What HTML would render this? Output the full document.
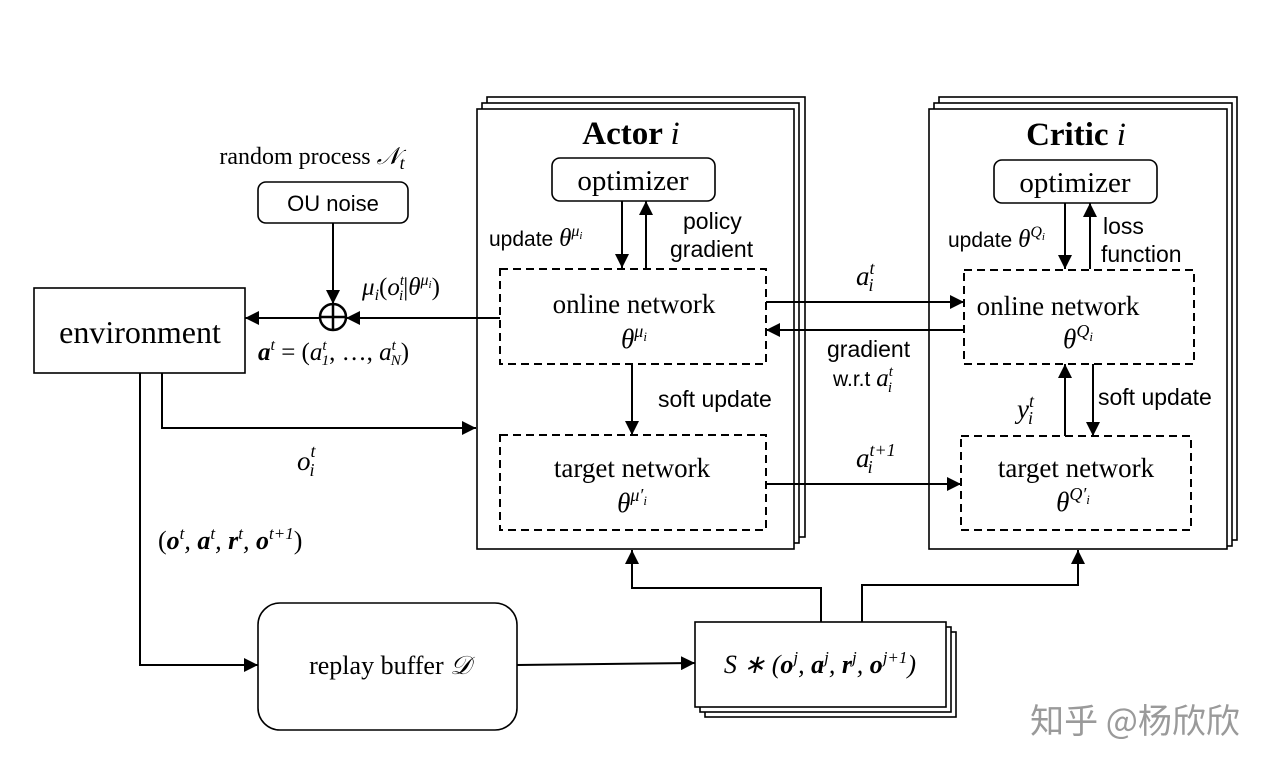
<!DOCTYPE html>
<html><head><meta charset="utf-8"><style>
html,body{margin:0;padding:0;background:#fff;}
svg{display:block}
.s{font-family:"Liberation Serif",serif;}
.a{font-family:"Liberation Sans","Noto Sans CJK SC",sans-serif;}
.i{font-family:"Liberation Serif",serif;font-style:italic;}
</style></head><body>
<svg width="1271" height="774" viewBox="0 0 1271 774" xmlns="http://www.w3.org/2000/svg">
<defs>
<marker id="m" viewBox="0 0 10 10" refX="10" refY="5" markerWidth="14" markerHeight="14" orient="auto" markerUnits="userSpaceOnUse"><path d="M0,0 L10,5 L0,10 z" fill="#000"/></marker></defs>
<g fill="#fff" stroke="#000" stroke-width="1.6">
<rect x="487" y="97" width="318" height="440"/>
<rect x="482" y="103" width="317" height="440"/>
<rect x="477" y="109" width="317" height="440"/>
<rect x="939" y="97" width="298" height="443"/>
<rect x="934" y="103" width="298" height="443"/>
<rect x="929" y="109" width="298" height="440"/>
<rect x="705" y="632" width="251" height="85"/>
<rect x="700" y="627" width="251" height="85"/>
<rect x="695" y="622" width="251" height="85"/>
<rect x="552" y="158" width="163" height="43" rx="8"/>
<rect x="994" y="160" width="163" height="43" rx="8"/>
<rect x="258" y="182" width="150" height="41" rx="8"/>
<rect x="34" y="288" width="211" height="85"/>
<rect x="258" y="603" width="259" height="127" rx="22"/>
</g>
<g fill="none" stroke="#000" stroke-width="2" stroke-dasharray="8,5">
<rect x="500" y="269" width="266" height="95"/>
<rect x="500" y="435" width="266" height="95"/>
<rect x="964" y="270" width="230" height="94"/>
<rect x="961" y="436" width="230" height="94"/>
</g>
<g fill="none" stroke="#000" stroke-width="2">
<line x1="622" y1="201" x2="622" y2="268" marker-end="url(#m)"/>
<line x1="646" y1="268" x2="646" y2="201" marker-end="url(#m)"/>
<line x1="1065" y1="203" x2="1065" y2="269" marker-end="url(#m)"/>
<line x1="1090" y1="269" x2="1090" y2="203" marker-end="url(#m)"/>
<line x1="632" y1="364" x2="632" y2="435" marker-end="url(#m)"/>
<line x1="1065" y1="436" x2="1065" y2="364" marker-end="url(#m)"/>
<line x1="1093" y1="364" x2="1093" y2="436" marker-end="url(#m)"/>
<line x1="766" y1="302" x2="964" y2="302" marker-end="url(#m)"/>
<line x1="964" y1="330" x2="766" y2="330" marker-end="url(#m)"/>
<line x1="766" y1="484" x2="961" y2="484" marker-end="url(#m)"/>
<line x1="500" y1="318" x2="346" y2="318" marker-end="url(#m)"/>
<line x1="320" y1="318" x2="245" y2="318" marker-end="url(#m)"/>
<line x1="333" y1="223" x2="333" y2="304" marker-end="url(#m)"/>
<circle cx="333" cy="317" r="13" stroke-width="2.5"/>
<line x1="320" y1="317" x2="346" y2="317" stroke-width="2.5"/>
<line x1="333" y1="304" x2="333" y2="330" stroke-width="2.5"/>
<polyline points="162,373 162,428 476,428" marker-end="url(#m)"/>
<polyline points="140,373 140,665 258,665" marker-end="url(#m)"/>
<line x1="517" y1="665" x2="695" y2="663" marker-end="url(#m)"/>
<polyline points="821,622 821,588 632,588 632,550" marker-end="url(#m)"/>
<polyline points="862,622 862,585 1078,585 1078,550" marker-end="url(#m)"/>
</g>
<g font-size="27" text-anchor="middle">
<text x="631" y="144" class="s" font-weight="bold" font-size="33">Actor <tspan font-style="italic" font-weight="normal">i</tspan></text>
<text x="1076" y="145" class="s" font-weight="bold" font-size="33">Critic <tspan font-style="italic" font-weight="normal">i</tspan></text>
<text x="633" y="190" class="s" font-size="29">optimizer</text>
<text x="1075" y="192" class="s" font-size="29">optimizer</text>
<text x="634" y="313" class="s">online network</text>
<text x="634" y="348" class="i">θ<tspan font-size="18" dy="-11">μ</tspan><tspan font-size="13" dy="4">i</tspan></text>
<text x="632" y="477" class="s">target network</text>
<text x="632" y="512" class="i">θ<tspan font-size="18" dy="-11">μ′</tspan><tspan font-size="13" dy="4">i</tspan></text>
<text x="1058" y="315" class="s">online network</text>
<text x="1078" y="348" class="i">θ<tspan font-size="18" dy="-11">Q</tspan><tspan font-size="13" dy="4">i</tspan></text>
<text x="1076" y="477" class="s">target network</text>
<text x="1073" y="511" class="i">θ<tspan font-size="18" dy="-11">Q′</tspan><tspan font-size="13" dy="4">i</tspan></text>
<text x="140" y="343" class="s" font-size="32">environment</text>
<text x="333" y="211" class="a" font-size="22">OU noise</text>
<text x="390" y="674" class="s" font-size="26">replay buffer <tspan font-style="italic">𝒟</tspan></text>
<text x="820" y="673" class="i" font-size="26">S ∗ (<tspan font-weight="bold">o</tspan><tspan font-size="17" dy="-10">j</tspan><tspan dy="10">, </tspan><tspan font-weight="bold">a</tspan><tspan font-size="17" dy="-10">j</tspan><tspan dy="10">, </tspan><tspan font-weight="bold">r</tspan><tspan font-size="17" dy="-10">j</tspan><tspan dy="10">, </tspan><tspan font-weight="bold">o</tspan><tspan font-size="17" dy="-10">j+1</tspan><tspan dy="10">)</tspan></text>
</g>
<g font-size="23" class="a">
<text x="489" y="246" class="a" font-size="21">update <tspan class="i" font-size="25">θ</tspan><tspan class="i" font-size="16" dy="-10">μ</tspan><tspan class="i" font-size="11" dy="3">i</tspan></text>
<text x="683" y="229" class="a">policy</text>
<text x="670" y="257" class="a">gradient</text>
<text x="948" y="247" class="a" font-size="21">update <tspan class="i" font-size="25">θ</tspan><tspan class="i" font-size="16" dy="-10">Q</tspan><tspan class="i" font-size="11" dy="3">i</tspan></text>
<text x="1103" y="234" class="a">loss</text>
<text x="1101" y="262" class="a">function</text>
<text x="658" y="407" class="a">soft update</text>
<text x="1098" y="405" class="a">soft update</text>
<text x="827" y="357" class="a">gradient</text>
<text x="833" y="386" class="a" font-size="21">w.r.t <tspan class="i" font-size="25">a</tspan><tspan class="i" font-size="15" dy="-10">t</tspan><tspan class="i" font-size="15" dx="-5" dy="16">i</tspan></text>
</g>
<g class="i" font-size="27">
<text x="856" y="285">a<tspan font-size="18" dy="-11">t</tspan><tspan font-size="18" dx="-6" dy="17">i</tspan></text>
<text x="856" y="467">a<tspan font-size="18" dy="-11">t+1</tspan><tspan font-size="18" dx="-28" dy="17">i</tspan></text>
<text x="1017" y="418">y<tspan font-size="18" dy="-11">t</tspan><tspan font-size="18" dx="-6" dy="17">i</tspan></text>
<text x="297" y="470">o<tspan font-size="18" dy="-13">t</tspan><tspan font-size="18" dx="-6" dy="19">i</tspan></text>
<text x="362" y="295" font-size="25">μ<tspan font-size="16" dy="5">i</tspan><tspan dy="-5" font-style="normal">(</tspan>o<tspan font-size="15" dy="-10">t</tspan><tspan font-size="15" dx="-5" dy="15">i</tspan><tspan dy="-5" font-style="normal">|</tspan>θ<tspan font-size="16" dy="-10">μ</tspan><tspan font-size="11" dy="3">i</tspan><tspan dy="7" font-style="normal">)</tspan></text>
<text x="258" y="360" font-size="25"><tspan font-weight="bold">a</tspan><tspan font-size="16" dy="-10">t</tspan><tspan dy="10" font-style="normal"> = (</tspan>a<tspan font-size="15" dy="-10">t</tspan><tspan font-size="15" dx="-5" dy="15">1</tspan><tspan dy="-5" font-style="normal">, …, </tspan>a<tspan font-size="15" dy="-10">t</tspan><tspan font-size="15" dx="-5" dy="15">N</tspan><tspan dy="-5" font-style="normal">)</tspan></text>
<text x="158" y="549" font-size="26"><tspan font-style="normal">(</tspan><tspan font-weight="bold">o</tspan><tspan font-size="17" dy="-10">t</tspan><tspan dy="10">, </tspan><tspan font-weight="bold">a</tspan><tspan font-size="17" dy="-10">t</tspan><tspan dy="10">, </tspan><tspan font-weight="bold">r</tspan><tspan font-size="17" dy="-10">t</tspan><tspan dy="10">, </tspan><tspan font-weight="bold">o</tspan><tspan font-size="17" dy="-10">t+1</tspan><tspan dy="10" font-style="normal">)</tspan></text>
</g>
<text x="312" y="164" class="s" font-size="24" text-anchor="middle">random process <tspan font-style="italic">𝒩</tspan><tspan font-style="italic" font-size="18" dy="5">t</tspan></text>
<text x="1135" y="733" font-size="34" fill="#9a9a9a" text-anchor="middle" font-family="'Noto Sans CJK SC',sans-serif">知乎 @杨欣欣</text>
</svg>
</body></html>
